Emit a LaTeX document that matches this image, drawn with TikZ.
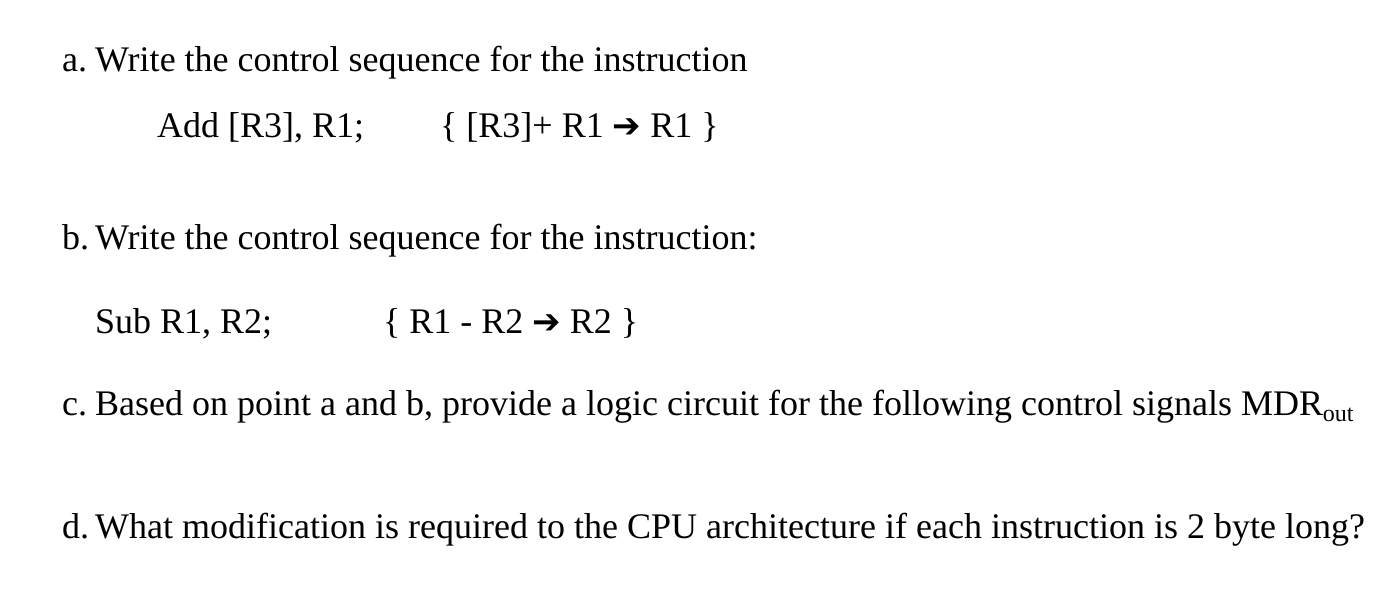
\documentclass[tikz,border=0pt]{standalone}
\usepackage{fontspec}
\setmainfont{Liberation Serif}
\newfontfamily\symf{DejaVu Sans}
\begin{document}
\begin{tikzpicture}[x=1pt,y=-1pt,t/.style={anchor=base west,inner sep=0pt,font=\fontsize{36}{36}\selectfont}]
\useasboundingbox (0,0) rectangle (1396,612);
\newcommand{\arr}{{\symf\fontsize{34}{34}\selectfont ➔}}
\node[t] (la) at (62,72) {a.};
\node[t] (ta) at (95,72) {Write the control sequence for the instruction};
\node[t] (add) at (157,138) {Add [R3], R1;};
\node[t] (ea) at (440,138) {\{ [R3]+ R1 \arr\ R1 \}};
\node[t] (lb) at (62,250) {b.};
\node[t] (tb) at (95,250) {Write the control sequence for the instruction:};
\node[t] (sub) at (95,333) {Sub R1, R2;};
\node[t] (eb) at (383,333) {\{ R1 - R2 \arr\ R2 \}};
\node[t] (lc) at (62,415) {c.};
\node[t] (tc) at (95,415) {Based on point a and b, provide a logic circuit for the following control signals MDR\raisebox{-6pt}{\fontsize{24}{24}\selectfont out}};
\node[t] (ld) at (62,538) {d.};
\node[t] (td) at (95,538) {What modification is required to the CPU architecture if each instruction is 2 byte long?};
\end{tikzpicture}
\end{document}
